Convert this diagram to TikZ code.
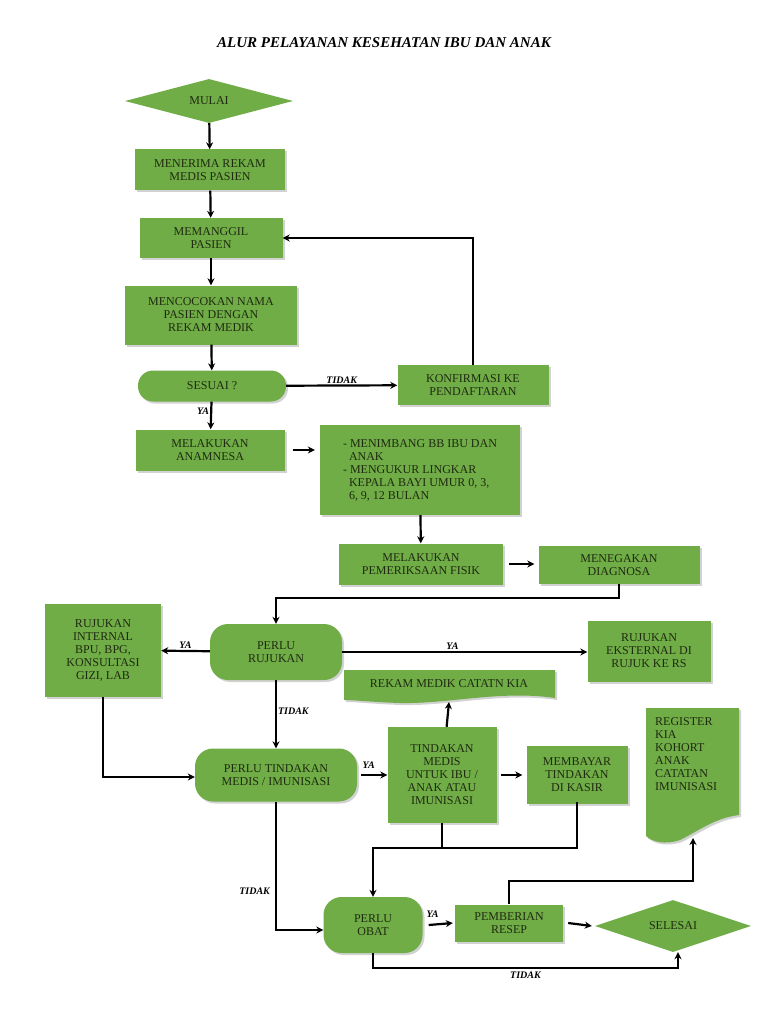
\documentclass[tikz,border=0pt]{standalone}
\usepackage{fontspec}
\setmainfont{Liberation Serif}
\usetikzlibrary{shapes.geometric,arrows.meta,shadows}
\definecolor{gr}{HTML}{70AD47}
\definecolor{tx}{HTML}{1F2A10}
\begin{document}
\begin{tikzpicture}[x=1pt,y=-1pt,
 every node/.style={font=\fontsize{12}{13}\selectfont,text=tx,align=center,inner sep=1pt},
 box/.style={rectangle,fill=gr,drop shadow={shadow xshift=2pt,shadow yshift=-2pt,opacity=0.35}},
 stad/.style={box,rounded corners=18pt},
 dia/.style={diamond,fill=gr,aspect=3.9,inner sep=0pt},
 ar/.style={-{Stealth[length=7pt,width=7pt]},line width=2.2pt},
 ln/.style={line width=2.2pt},
 lab/.style={font=\fontsize{10}{11}\selectfont\bfseries\itshape,text=black}]
\useasboundingbox (0,0) rectangle (768,1024);
\fill[white] (0,0) rectangle (768,1024);
\node[font=\fontsize{15}{16}\selectfont\bfseries\itshape,text=black] (title) at (384,43) {ALUR PELAYANAN KESEHATAN IBU DAN ANAK};
\node[dia,minimum width=168,minimum height=44] (mulai) at (209,101) {MULAI};
\node[box,minimum width=150,minimum height=41] (terima) at (210,170) {MENERIMA REKAM\\MEDIS PASIEN};
\node[box,minimum width=143,minimum height=40] (panggil) at (211,238) {MEMANGGIL\\PASIEN};
\node[box,minimum width=172,minimum height=59] (cocok) at (211,315) {MENCOCOKAN NAMA\\PASIEN DENGAN\\REKAM MEDIK};
\node[stad,minimum width=148,minimum height=31,rounded corners=15pt] (sesuai) at (212,386) {SESUAI ?};
\node[box,minimum width=151,minimum height=40] (konf) at (473,385) {KONFIRMASI KE\\PENDAFTARAN};
\node[box,minimum width=149,minimum height=41] (anam) at (210,450) {MELAKUKAN\\ANAMNESA};
\node[box,minimum width=200,minimum height=90,align=left] (timbang) at (420,470) {- MENIMBANG BB IBU DAN\\\ \ ANAK\\- MENGUKUR LINGKAR\\\ \ KEPALA BAYI UMUR 0, 3,\\\ \ 6, 9, 12 BULAN};
\node[box,minimum width=164,minimum height=41] (fisik) at (421,564) {MELAKUKAN\\PEMERIKSAAN FISIK};
\node[box,minimum width=161,minimum height=38] (diag) at (619,565) {MENEGAKAN\\DIAGNOSA};
\node[stad,minimum width=132,minimum height=56] (rujuk) at (276,652) {PERLU\\RUJUKAN};
\node[box,minimum width=116,minimum height=93] (intern) at (103,650) {RUJUKAN\\INTERNAL\\BPU, BPG,\\KONSULTASI\\GIZI, LAB};
\node[box,minimum width=123,minimum height=61] (ekst) at (649,651) {RUJUKAN\\EKSTERNAL DI\\RUJUK KE RS};
% rekam medik wavy shape
\fill[gr,drop shadow={shadow xshift=2pt,shadow yshift=-2pt,opacity=0.35}] (344,670) -- (555,670) -- (555,698) .. controls (500,690) and (450,704) .. (400,703) .. controls (370,702) and (355,700) .. (344,700) -- cycle;
\node (rekam) at (449,684) {REKAM MEDIK CATATN KIA};
\node[stad,minimum width=162,minimum height=53] (tind) at (276,775) {PERLU TINDAKAN\\MEDIS / IMUNISASI};
\node[box,minimum width=109,minimum height=96] (medis) at (442,775) {TINDAKAN\\MEDIS\\UNTUK IBU /\\ANAK ATAU\\IMUNISASI};
\node[box,minimum width=101,minimum height=58] (bayar) at (577,775) {MEMBAYAR\\TINDAKAN\\DI KASIR};
% register document shape
\fill[gr,drop shadow={shadow xshift=2pt,shadow yshift=-2pt,opacity=0.35}] (646,708) -- (739,708) -- (739,815) .. controls (715,818) and (700,830) .. (680,840) .. controls (665,845) and (652,842) .. (646,836) -- cycle;
\node[align=left,anchor=north west] (reg) at (654,716) {REGISTER\\KIA\\KOHORT\\ANAK\\CATATAN\\IMUNISASI};
\coordinate (regb) at (693,838);
\node[stad,minimum width=99,minimum height=56] (obat) at (373,925) {PERLU\\OBAT};
\node[box,minimum width=108,minimum height=37] (resep) at (509,923) {PEMBERIAN\\RESEP};
\node[dia,minimum width=156,minimum height=52,aspect=3] (sel) at (673,926) {SELESAI};
% connectors
\draw[ar] (mulai) -- (terima);
\draw[ar] (terima) -- (panggil);
\draw[ar] (panggil) -- (cocok);
\draw[ar] (cocok) -- (sesuai);
\draw[ar] (sesuai) -- node[lab,above]{TIDAK} (konf);
\draw[ar] (konf.north) |- (panggil.east);
\draw[ar] (sesuai) -- node[lab,left,pos=0.35]{YA} (anam);
\draw[ar] ([xshift=8pt]anam.east) -- ([xshift=-5pt]timbang.west|-anam.east);
\draw[ar] (timbang) -- (fisik);
\draw[ar] ([xshift=6pt]fisik.east) -- ([xshift=-4pt]diag.west|-fisik.east);
\draw[ar] (diag.south) -- ++(0,14) -| (rujuk.north);
\draw[ar] (rujuk) -- node[lab,above]{YA} (intern);
\draw[ar] (rujuk) -- node[lab,above,pos=0.45]{YA} (ekst.west|-rujuk);
\draw[ar] (rujuk) -- node[lab,right,pos=0.45]{TIDAK} (tind);
\draw[ar] (intern.south) |- ([yshift=-2pt]tind.west);
\draw[ar] ([xshift=4pt]tind.east) -- node[lab,above left,pos=0.6,yshift=4pt]{YA} (medis);
\draw[ar] (medis) -- (rekam.south|-445,702);
\draw[ar] ([xshift=4pt]medis.east) -- ([xshift=-4pt]bayar.west);
\draw[ln] (medis.south) -- (442,848);
\draw[ar] ([yshift=2pt]bayar.south) -- (577,848) -| (obat.north);
\draw[ar] (tind.south) |- node[lab,left,pos=0.35,xshift=-4pt]{TIDAK} ([yshift=-5pt]obat.west);
\draw[ar] ([xshift=6pt]obat.east) -- node[lab,above left,pos=0.5,yshift=4pt]{YA} ([xshift=-2pt]resep.west);
\draw[ar] ([xshift=5pt]resep.east) -- ([xshift=-3pt]sel.west);
\draw[ar] (resep.north) -- ++(0,-23) -| (regb);
\draw[ar] (obat.south) -- ++(0,15) -| node[lab,below,pos=0.25,yshift=-2pt]{TIDAK} ([xshift=5pt]sel.south);
\end{tikzpicture}
\end{document}
